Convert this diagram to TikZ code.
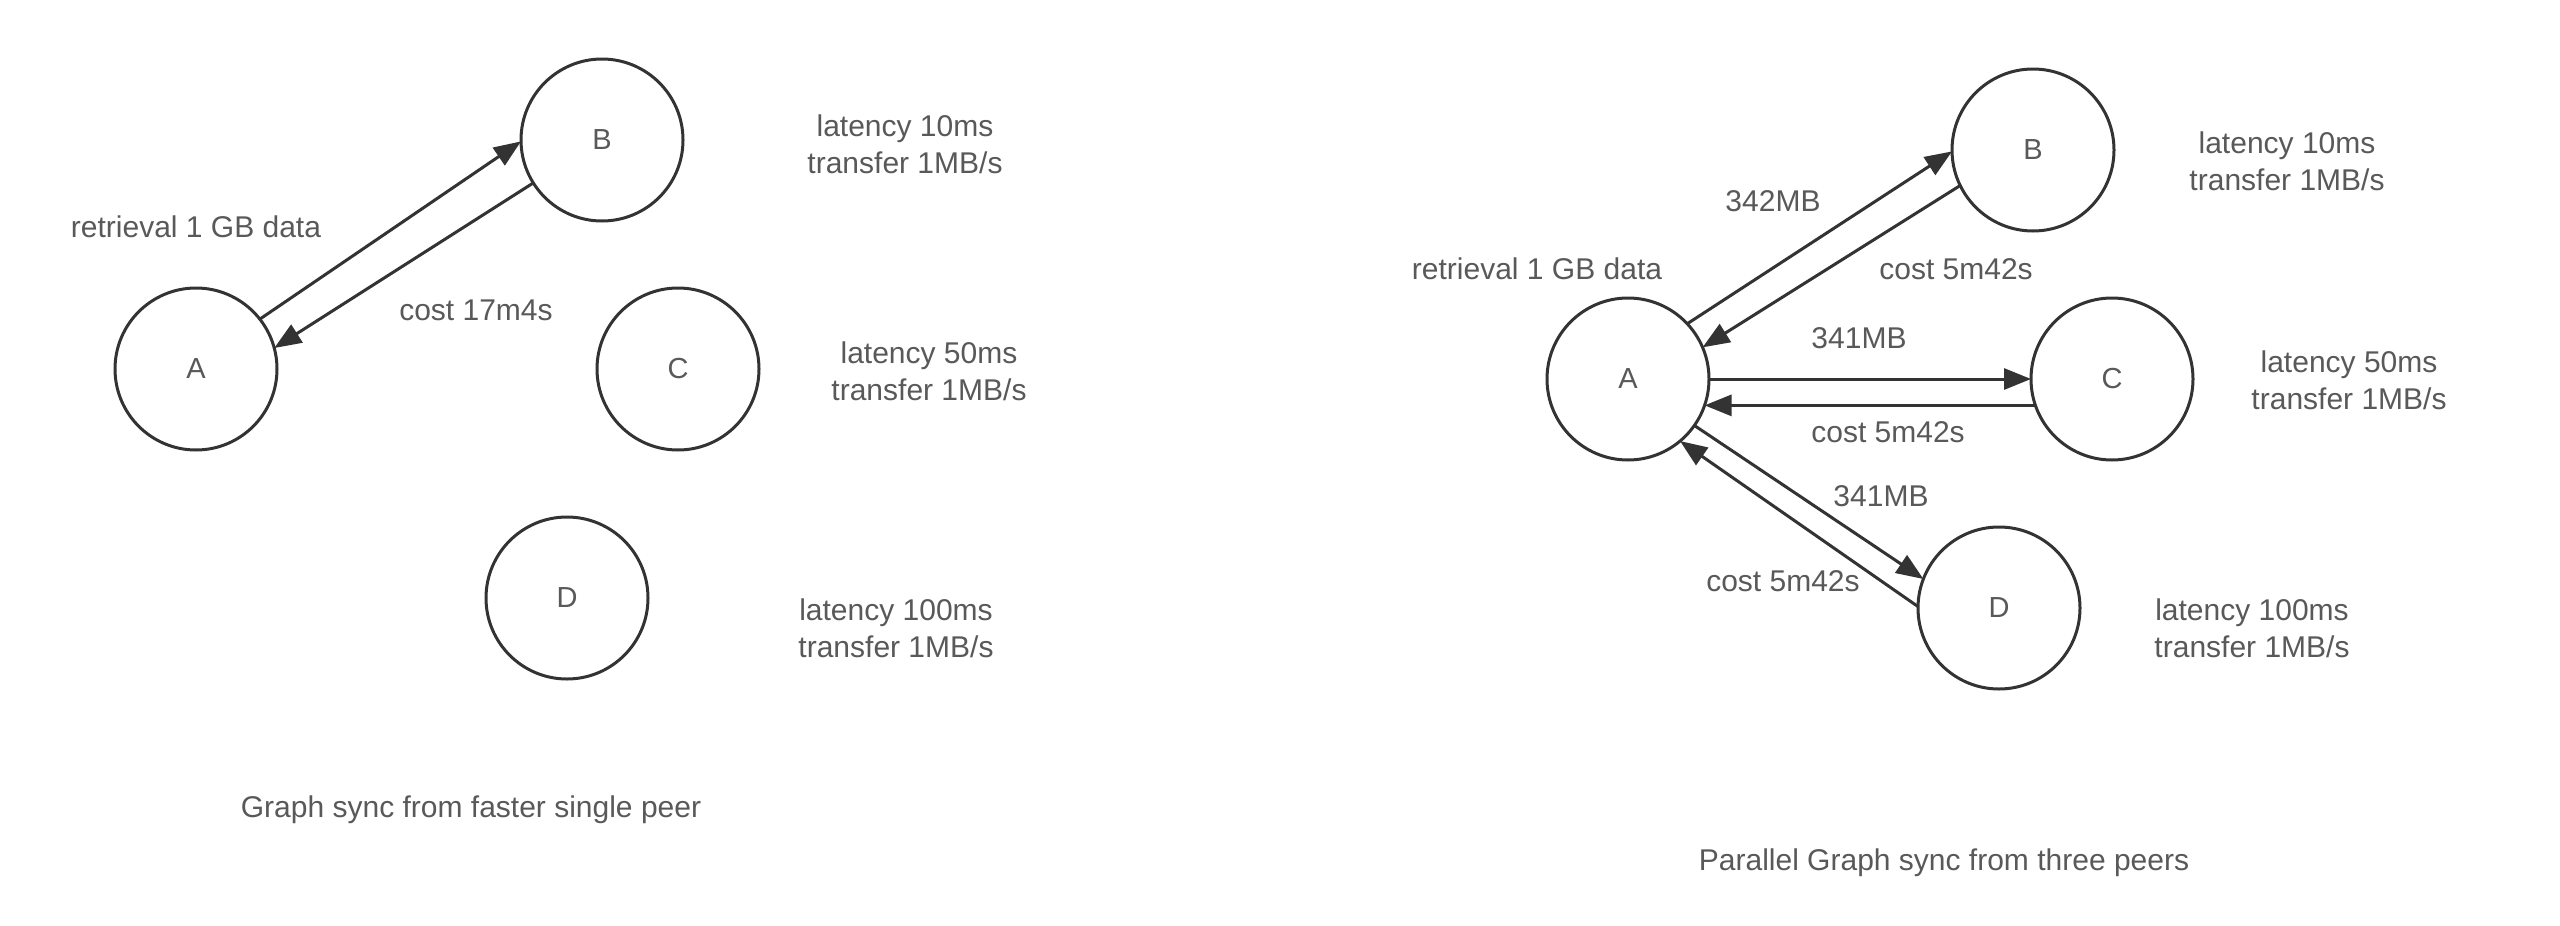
\documentclass[tikz,border=0pt]{standalone}
\usepackage{fontspec}
\setmainfont{Liberation Sans}
\usetikzlibrary{arrows.meta}
\definecolor{linec}{HTML}{333333}
\definecolor{textc}{HTML}{595959}
\begin{document}
\begin{tikzpicture}[x=1pt,y=-1pt,
  peer/.style={circle, draw=linec, line width=3pt, minimum size=162pt, inner sep=0pt, outer sep=0pt, text=textc, font=\fontsize{29}{36}\selectfont},
  lbl/.style={text=textc, font=\fontsize{30}{37}\selectfont, inner sep=0pt, align=center},
  conn/.style={draw=linec, line width=3pt, -{Triangle[length=27pt,width=21pt]}}]
\fill[white] (0,0) rectangle (2560,926);
\useasboundingbox (0,0) rectangle (2560,926);

% ---------- left diagram ----------
\node[peer] (A1) at (196,369) {A};
\node[peer] (B1) at (602,140) {B};
\node[peer] (C1) at (678,369) {C};
\node[peer] (D1) at (567,598) {D};

\draw[conn] (A1.38) -- (B1.181);
\draw[conn] (B1.212) -- (A1.15);

\node[lbl] (r1) at (196,227) {retrieval 1 GB data};
\node[lbl] (c1) at (476,310) {cost 17m4s};
\node[lbl] (lb1) at (905,144) {latency 10ms\\transfer 1MB/s};
\node[lbl] (lc1) at (929,371) {latency 50ms\\transfer 1MB/s};
\node[lbl] (ld1) at (896,628) {latency 100ms\\transfer 1MB/s};
\node[lbl] (cap1) at (471,810) {Graph sync from faster single peer};

% ---------- right diagram ----------
\node[peer] (A2) at (1628,379) {A};
\node[peer] (B2) at (2033,150) {B};
\node[peer] (C2) at (2112,379) {C};
\node[peer] (D2) at (1999,608) {D};

\draw[conn] (A2.43) -- (B2.181);
\draw[conn] (B2.206) -- (A2.23);
\draw[conn] (A2.0) -- (C2.180);
\draw[conn] (C2.199) -- (A2.-19);
\draw[conn] (A2.-35) -- (D2.159);
\draw[conn] (D2.179) -- (A2.-50);

\node[lbl] (r2) at (1537,269) {retrieval 1 GB data};
\node[lbl] (m1) at (1773,201) {342MB};
\node[lbl] (k1) at (1956,269) {cost 5m42s};
\node[lbl] (m2) at (1859,338) {341MB};
\node[lbl] (k2) at (1888,432) {cost 5m42s};
\node[lbl] (m3) at (1881,496) {341MB};
\node[lbl] (k3) at (1783,581) {cost 5m42s};
\node[lbl] (lb2) at (2287,161) {latency 10ms\\transfer 1MB/s};
\node[lbl] (lc2) at (2349,380) {latency 50ms\\transfer 1MB/s};
\node[lbl] (ld2) at (2252,628) {latency 100ms\\transfer 1MB/s};
\node[lbl] (cap2) at (1944,863) {Parallel Graph sync from three peers};
\end{tikzpicture}
\end{document}
